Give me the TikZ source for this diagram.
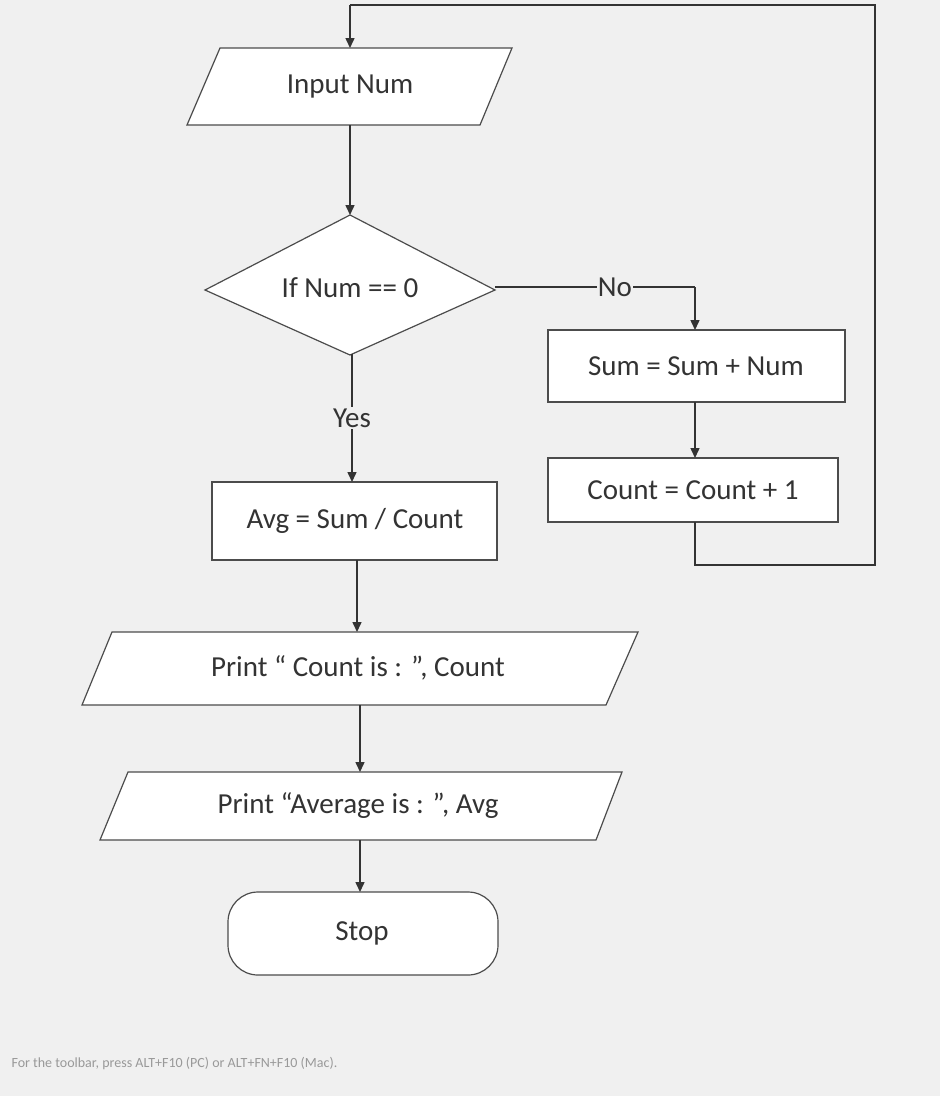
\documentclass[tikz,border=0pt]{standalone}
\usepackage{fontspec}
\setmainfont{Carlito}
\usetikzlibrary{arrows.meta}
\begin{document}
\begin{tikzpicture}[x=1pt,y=-1pt,
  shp/.style={draw=black!70,line width=1.2pt,fill=white},
  lbl/.style={font=\fontsize{29}{31}\selectfont,text=black!80},
  conn/.style={draw=black!80,line width=1.5pt},
  arr/.style={conn,-{Triangle[length=10pt,width=9pt]}}]
\useasboundingbox[fill=black!6] (0,0) rectangle (940,1096);
% shapes
\draw[shp] (187,125)--(220,48)--(512,48)--(480,125)--cycle;
\node[lbl] (inp) at (350,87) {Input Num};
\draw[shp] (205,290)--(350,215)--(495,290)--(350,355)--cycle;
\node[lbl] (dec) at (350,288) {If Num == 0};
\draw[shp] (548,330) rectangle (845,402);
\node[lbl] (sum) at (696,366) {Sum = Sum + Num};
\draw[shp] (548,458) rectangle (838,522);
\node[lbl] (cnt) at (693,490) {Count = Count + 1};
\draw[shp] (212,482) rectangle (497,560);
\node[lbl] (avg) at (355,521) {Avg = Sum / Count};
\draw[shp] (82,705)--(112,632)--(638,632)--(606,705)--cycle;
\node[lbl] (pc) at (358,668) {Print `` Count is : '', Count};
\draw[shp] (100,840)--(128,772)--(622,772)--(596,840)--cycle;
\node[lbl] (pa) at (358,806) {Print ``Average is : '', Avg};
\draw[shp,rounded corners=30pt] (228,892) rectangle (498,975);
\node[lbl] (stop) at (362,933) {Stop};
% coordinates
\coordinate (t0) at (350,5);
\coordinate (inT) at (350,48); \coordinate (inB) at (350,125);
\coordinate (dT) at (350,215); \coordinate (dB) at (352,354); \coordinate (dR) at (495,287);
\coordinate (nc) at (695,287);
\coordinate (sT) at (695,330); \coordinate (sB) at (695,402);
\coordinate (cT) at (695,458); \coordinate (cB) at (695,522);
\coordinate (l1) at (695,565); \coordinate (l2) at (875,565); \coordinate (l3) at (875,5);
\coordinate (aT) at (352,482); \coordinate (aB) at (357,560);
\coordinate (pcT) at (357,632); \coordinate (pcB) at (360,705);
\coordinate (paT) at (360,772); \coordinate (paB) at (360,840);
\coordinate (stT) at (360,892);
% connectors
\draw[arr] (t0)--(inT);
\draw[arr] (inB)--(dT);
\draw[conn] (dR)--(nc) node[pos=0.6,lbl,fill=black!6,inner sep=1pt] {No};
\draw[arr] (nc)--(sT);
\draw[arr] (sB)--(cT);
\draw[conn] (cB)--(l1)--(l2)--(l3)--(t0);
\draw[arr] (dB)--(aT) node[pos=0.5,lbl,fill=black!6,inner sep=2pt] {Yes};
\draw[arr] (aB)--(pcT);
\draw[arr] (pcB)--(paT);
\draw[arr] (paB)--(stT);
\node[anchor=west,font=\fontsize{14}{16}\selectfont,text=black!40] (foot) at (8,1063) {For the toolbar, press ALT+F10 (PC) or ALT+FN+F10 (Mac).};
\end{tikzpicture}
\end{document}
